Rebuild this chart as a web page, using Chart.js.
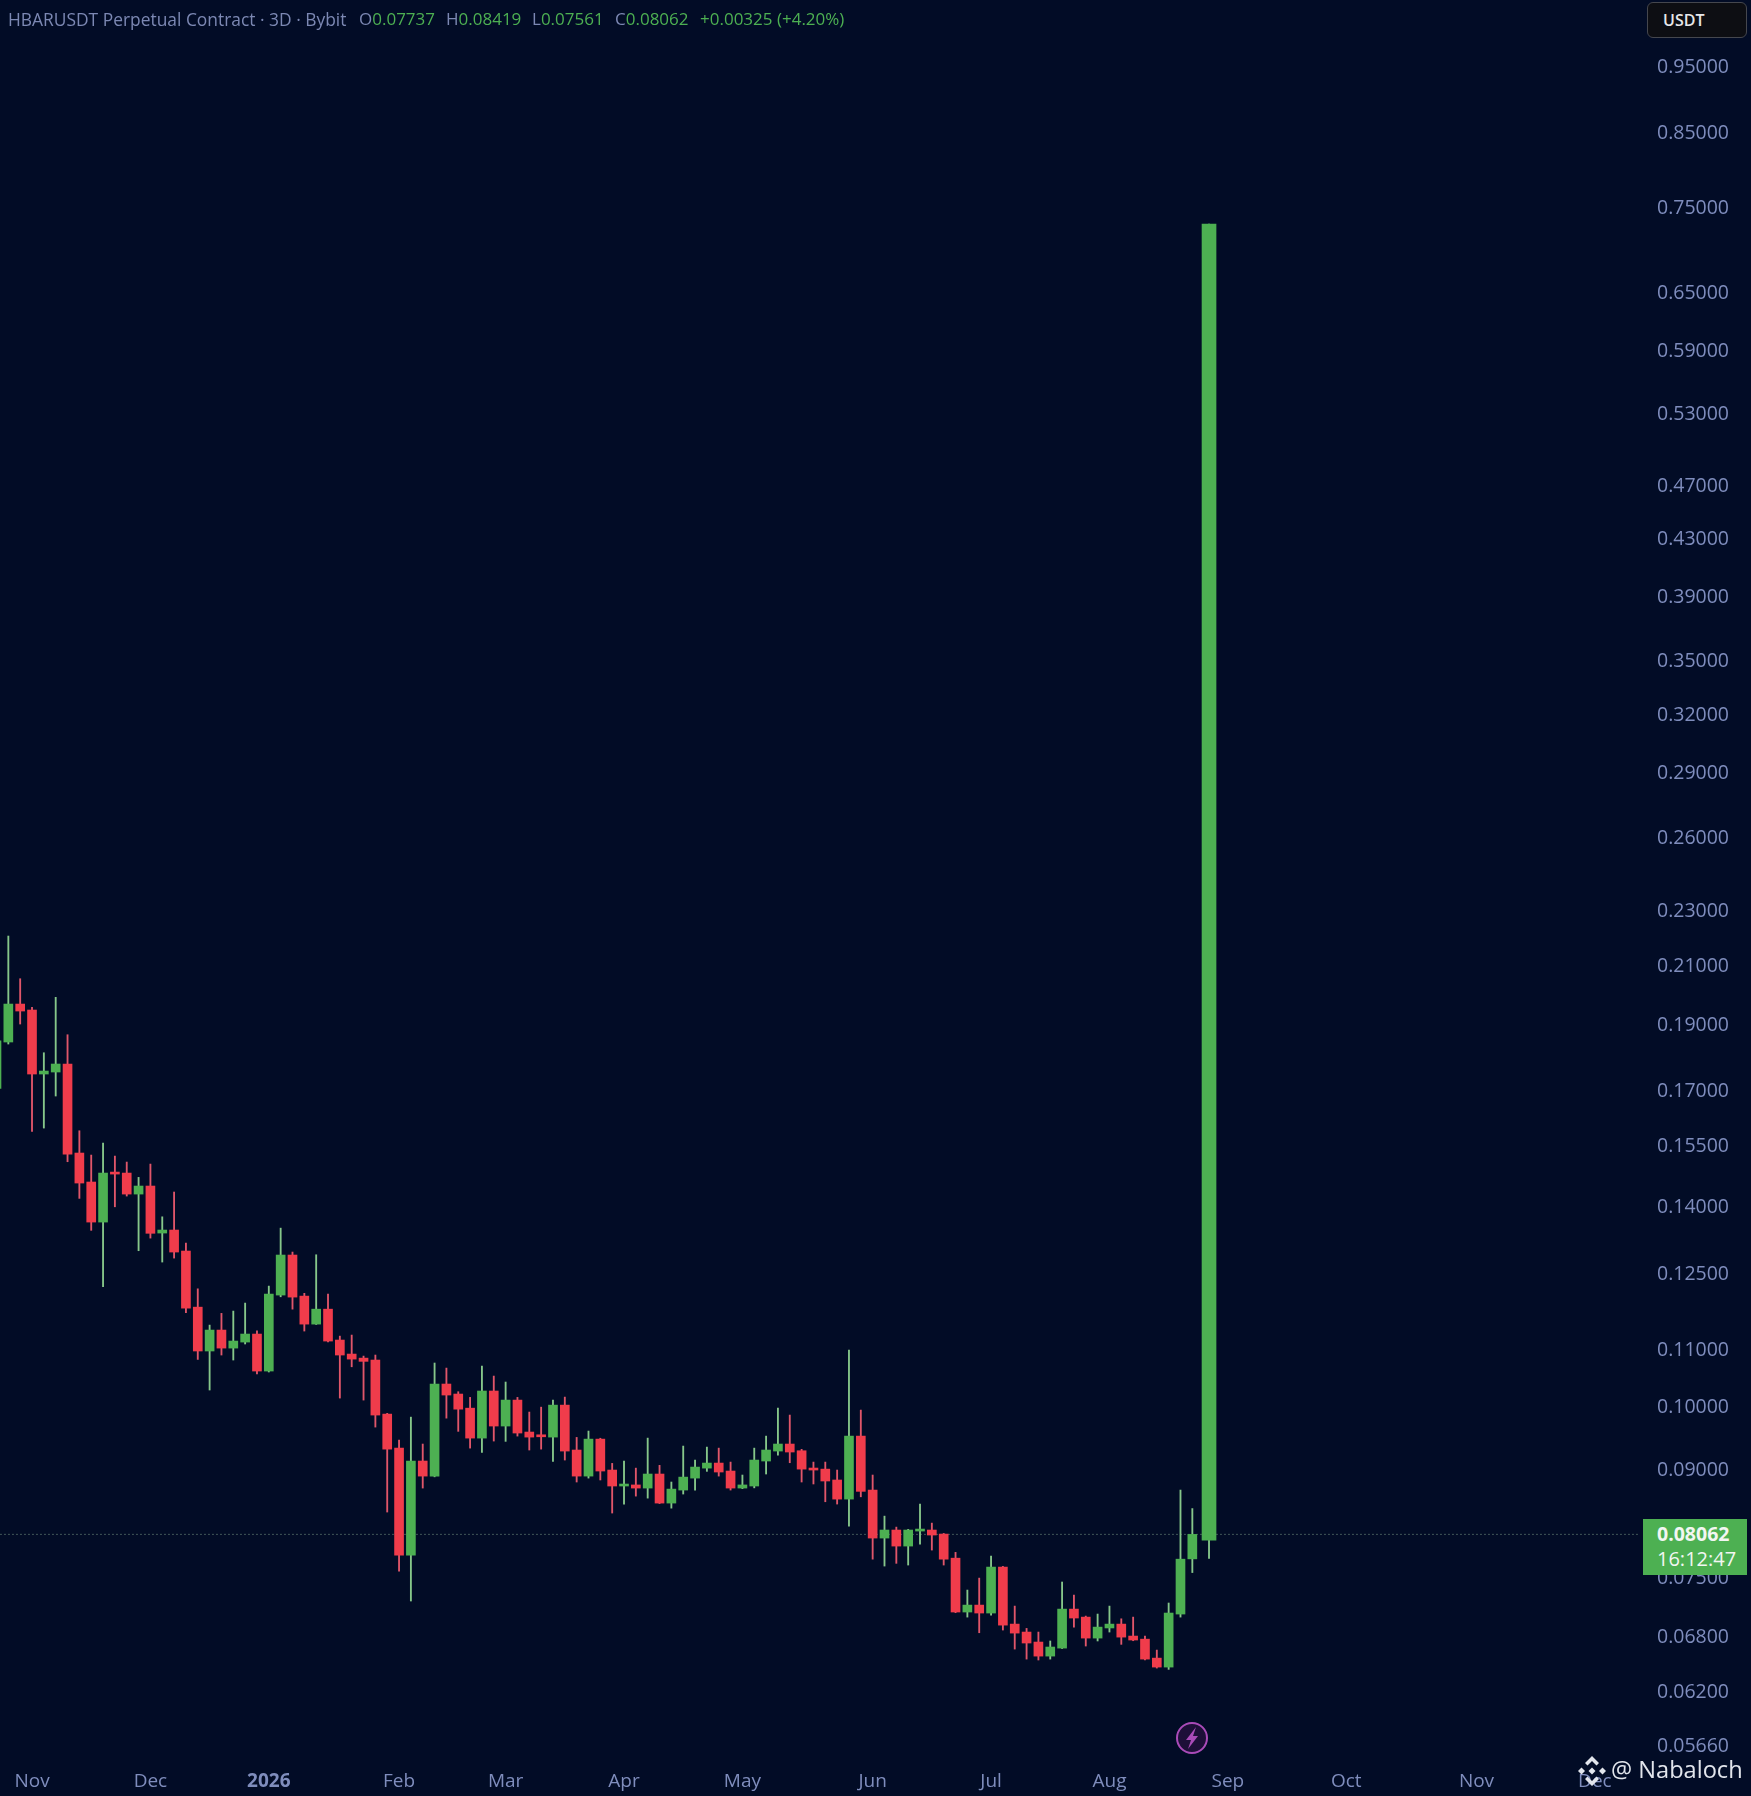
<!DOCTYPE html>
<html>
<head>
<meta charset="utf-8">
<title>HBARUSDT Perpetual Contract</title>
<script src="https://cdn.jsdelivr.net/npm/chart.js@4"></script>
<style>
  html, body { margin: 0; padding: 0; background: #020c26; }
  #wrap { position: relative; width: 1751px; height: 1796px; overflow: hidden; font-family: "Open Sans", sans-serif; }
  #chart { position: absolute; left: 0; top: 0; }
  .hd { position: absolute; top: 7px; font-size: 17px; line-height: 24px; color: #7c88b3; white-space: nowrap; }
  .hd b { font-weight: 400; color: #4db052; }
  #unit { position: absolute; left: 1647px; top: 2px; width: 100px; height: 36px; box-sizing: border-box; border: 1px solid #45474e; border-radius: 6px; background: #0d0e13; color: #e6e7ea; font-size: 16px; font-weight: 600; line-height: 34px; padding-left: 15px; }
  #tag { position: absolute; left: 1643px; top: 1519px; width: 104px; height: 56px; background: #4db052; color: #f2f6f2; font-size: 19.5px; }
  #tag div { position: absolute; left: 14px; line-height: 26px; white-space: nowrap; }
  #mark { position: absolute; left: 1611px; top: 1750px; font-size: 23.6px; line-height: 38px; color: #e2e5ec; white-space: nowrap; }
  svg { position: absolute; }
</style>
</head>
<body>
<div id="wrap">
  <canvas id="chart" width="1751" height="1796"></canvas>
  <div class="hd" style="left:8px;font-size:17.4px">HBARUSDT Perpetual Contract · 3D · Bybit</div>
  <div class="hd" style="left:359px">O<b>0.07737</b></div>
  <div class="hd" style="left:446px">H<b>0.08419</b></div>
  <div class="hd" style="left:532px">L<b>0.07561</b></div>
  <div class="hd" style="left:615px">C<b>0.08062</b></div>
  <div class="hd" style="left:700px"><b>+0.00325 (+4.20%)</b></div>
  <div id="unit">USDT</div>
  <div id="tag"><div style="top:2px;font-weight:700">0.08062</div><div style="top:27px;font-size:20px">16:12:47</div></div>
  <svg style="left:1175px;top:1721px" width="34" height="34" viewBox="0 0 34 34">
    <circle cx="17" cy="17" r="15" fill="#1d0f38" stroke="#a94bb8" stroke-width="2"/>
    <path d="M21 6 L11 19 H16 L13 28 L23 15 H18 Z" fill="#a94bb8"/>
  </svg>
  <svg style="left:1577px;top:1756px" width="30" height="30" viewBox="0 0 30 30" fill="#e2e5ec">
    <path d="M15 0 L22 7 L19.5 9.5 L15 5 L10.5 9.5 L8 7 Z"/>
    <path d="M15 30 L22 23 L19.5 20.5 L15 25 L10.5 20.5 L8 23 Z"/>
    <path d="M15 11.5 L18.5 15 L15 18.5 L11.5 15 Z"/>
    <path d="M4.5 11.5 L8 15 L4.5 18.5 L1 15 Z"/>
    <path d="M25.5 11.5 L29 15 L25.5 18.5 L22 15 Z"/>
  </svg>
  <div id="mark">@ Nabaloch</div>
</div>
<script>
// 3D candles, oldest first
const opens = [
  0.17053, 0.18434, 0.19648, 0.19452, 0.17469, 0.17528, 0.17765, 0.15298, 0.14571, 0.13623,
  0.14792, 0.14792, 0.14279, 0.14473, 0.13374, 0.13442, 0.12976, 0.11809, 0.10970, 0.11363,
  0.11024, 0.11136, 0.11287, 0.10607, 0.12051, 0.12889, 0.12030, 0.11477, 0.11769, 0.11174,
  0.10914, 0.10840, 0.10805, 0.09867, 0.09319, 0.07786, 0.09119, 0.08891, 0.10378, 0.10205,
  0.09966, 0.09477, 0.10257, 0.09671, 0.10102, 0.09574, 0.09509, 0.09493, 0.10017, 0.09289,
  0.08891, 0.09461, 0.08982, 0.08744, 0.08760, 0.08714, 0.08922, 0.08497, 0.08685, 0.08861,
  0.09011, 0.09088, 0.08967, 0.08714, 0.08744, 0.09119, 0.09273, 0.09383, 0.09278, 0.09011,
  0.08996, 0.08833, 0.08554, 0.09509, 0.08685, 0.08012, 0.08121, 0.07905, 0.08107, 0.08121,
  0.08066, 0.07746, 0.07076, 0.07159, 0.07064, 0.07631, 0.06934, 0.06842, 0.06728, 0.06571,
  0.06660, 0.07111, 0.07016, 0.06773, 0.06889, 0.06934, 0.06796, 0.06761, 0.06549, 0.06451,
  0.07052, 0.07737, 0.07985
];
const highs = [
  0.18474, 0.22026, 0.20502, 0.19538, 0.18105, 0.19871, 0.18661, 0.15881, 0.15246, 0.15557,
  0.15220, 0.15068, 0.14685, 0.15017, 0.13744, 0.14328, 0.13151, 0.12178, 0.11458, 0.11686,
  0.11731, 0.11890, 0.11350, 0.12234, 0.13485, 0.12954, 0.12086, 0.12895, 0.12071, 0.11248,
  0.11268, 0.10877, 0.10896, 0.09880, 0.09446, 0.09817, 0.09383, 0.10751, 0.10660, 0.10245,
  0.10148, 0.10696, 0.10518, 0.10413, 0.10148, 0.09901, 0.09983, 0.10102, 0.10153, 0.09488,
  0.09590, 0.09475, 0.09083, 0.09119, 0.09011, 0.09477, 0.09053, 0.08803, 0.09351, 0.09134,
  0.09335, 0.09319, 0.09103, 0.08907, 0.09319, 0.09509, 0.09966, 0.09851, 0.09300, 0.09103,
  0.09103, 0.08982, 0.10988, 0.09934, 0.08907, 0.08313, 0.08161, 0.08130, 0.08483, 0.08216,
  0.08075, 0.07822, 0.07342, 0.07491, 0.07773, 0.07640, 0.07147, 0.06884, 0.06842, 0.06740,
  0.07442, 0.07280, 0.07028, 0.07052, 0.07147, 0.06996, 0.07016, 0.06796, 0.06638, 0.07184,
  0.08685, 0.08419, 0.72844
];
const lows = [
  0.17053, 0.18372, 0.19000, 0.15865, 0.15953, 0.16835, 0.15076, 0.14176, 0.13435, 0.12220,
  0.13977, 0.14231, 0.12983, 0.13261, 0.12738, 0.12823, 0.11698, 0.10816, 0.10274, 0.10896,
  0.10805, 0.11100, 0.10554, 0.10590, 0.12016, 0.11769, 0.11344, 0.11470, 0.11140, 0.10136,
  0.10683, 0.10102, 0.09654, 0.08370, 0.07580, 0.07208, 0.08714, 0.08880, 0.09800, 0.09585,
  0.09319, 0.09253, 0.09430, 0.09425, 0.09509, 0.09289, 0.09303, 0.09114, 0.09134, 0.08803,
  0.08861, 0.08833, 0.08356, 0.08483, 0.08597, 0.08568, 0.08490, 0.08425, 0.08627, 0.08685,
  0.08962, 0.08891, 0.08685, 0.08705, 0.08717, 0.08922, 0.09211, 0.09093, 0.08803, 0.08774,
  0.08516, 0.08483, 0.08175, 0.08587, 0.07733, 0.07644, 0.07679, 0.07657, 0.07931, 0.07852,
  0.07657, 0.07068, 0.07016, 0.06834, 0.07040, 0.06865, 0.06649, 0.06538, 0.06528, 0.06538,
  0.06655, 0.06899, 0.06683, 0.06740, 0.06842, 0.06702, 0.06743, 0.06528, 0.06440, 0.06426,
  0.07016, 0.07561, 0.07743
];
const closes = [
  0.18474, 0.19648, 0.19419, 0.17469, 0.17557, 0.17765, 0.15272, 0.14546, 0.13623, 0.14792,
  0.14767, 0.14279, 0.14473, 0.13368, 0.13442, 0.12954, 0.11789, 0.10970, 0.11363, 0.11024,
  0.11155, 0.11287, 0.10607, 0.12071, 0.12889, 0.12010, 0.11477, 0.11769, 0.11155, 0.10896,
  0.10822, 0.10781, 0.09851, 0.09303, 0.07786, 0.09119, 0.08891, 0.10378, 0.10188, 0.09949,
  0.09477, 0.10257, 0.09671, 0.10102, 0.09558, 0.09493, 0.09498, 0.10017, 0.09273, 0.08891,
  0.09461, 0.08967, 0.08744, 0.08760, 0.08714, 0.08922, 0.08497, 0.08699, 0.08876, 0.09027,
  0.09088, 0.08952, 0.08714, 0.08760, 0.09134, 0.09289, 0.09383, 0.09258, 0.08996, 0.08982,
  0.08818, 0.08554, 0.09509, 0.08666, 0.08012, 0.08121, 0.07905, 0.08121, 0.08121, 0.08053,
  0.07733, 0.07076, 0.07159, 0.07064, 0.07631, 0.06922, 0.06830, 0.06717, 0.06571, 0.06672,
  0.07111, 0.07005, 0.06773, 0.06899, 0.06934, 0.06784, 0.06751, 0.06538, 0.06451, 0.07064,
  0.07733, 0.08062, 0.72844
];
const lastPrice = 0.08062;

// the last candle sits a little off the 3D grid and is wider
const spikeIndex = 102;
const spikeSlot = 102.41;

const priceTicks = [
  0.95, 0.85, 0.75, 0.65, 0.59, 0.53, 0.47, 0.43, 0.39, 0.35, 0.32, 0.29, 0.26, 0.23,
  0.21, 0.19, 0.17, 0.155, 0.14, 0.125, 0.11, 0.10, 0.09, 0.08, 0.075, 0.068, 0.062, 0.0566
];
const monthSlots = [3, 13, 23, 34, 43, 53, 63, 74, 84, 94, 104, 114, 125, 135];
const monthLabels = ['Nov', 'Dec', '2026', 'Feb', 'Mar', 'Apr', 'May', 'Jun', 'Jul', 'Aug', 'Sep', 'Oct', 'Nov', 'Dec'];

const UP = '#4db052';
const DOWN = '#f03c4b';
const UP_WICK = '#86c78a';
const DOWN_WICK = '#e0566a';
const AXIS_TEXT = '#7f8dbd';

const slot = i => (i === spikeIndex ? spikeSlot : i);
const isUp = i => closes[i] >= opens[i];
const indexes = opens.map((_, i) => i);
const plain = indexes.filter(i => i !== spikeIndex);

// the axes should not reserve room for labels hanging over the plot edges
const noEdgePadding = s => {
  s.paddingTop = 0;
  s.paddingBottom = 0;
  s.paddingLeft = 0;
  s.paddingRight = 0;
};

new Chart(document.getElementById('chart'), {
  type: 'bar',
  data: {
    datasets: [
      {
        label: 'body',
        order: 1,
        barThickness: 9,
        minBarLength: 2,
        data: plain.map(i => ({ x: slot(i), y: [opens[i], closes[i]] })),
        backgroundColor: plain.map(i => (isUp(i) ? UP : DOWN))
      },
      {
        label: 'spike',
        order: 1,
        barThickness: 14,
        data: [{ x: slot(spikeIndex), y: [opens[spikeIndex], closes[spikeIndex]] }],
        backgroundColor: UP
      },
      {
        label: 'wick',
        order: 2,
        barThickness: 1.2,
        data: indexes.map(i => ({ x: slot(i), y: [lows[i], highs[i]] })),
        backgroundColor: indexes.map(i => (isUp(i) ? UP_WICK : DOWN_WICK))
      },
      {
        type: 'line',
        label: 'last',
        order: 3,
        data: [{ x: 0, y: lastPrice }, { x: 140, y: lastPrice }],
        borderColor: 'rgba(170, 210, 170, 0.75)',
        borderWidth: 1,
        borderDash: [1, 3],
        pointRadius: 0
      }
    ]
  },
  options: {
    responsive: false,
    animation: false,
    devicePixelRatio: 1,
    layout: { padding: 0 },
    plugins: { legend: { display: false }, tooltip: { enabled: false } },
    datasets: { bar: { grouped: false, borderWidth: 0 } },
    scales: {
      x: {
        type: 'linear',
        offset: false,
        min: 0.296,
        max: 138.81,
        grid: { display: false },
        border: { display: false },
        afterBuildTicks: s => { s.ticks = monthSlots.map(value => ({ value })); },
        afterFit: s => { s.height = 33; noEdgePadding(s); },
        ticks: {
          autoSkip: false,
          maxRotation: 0,
          padding: -1,
          color: AXIS_TEXT,
          font: ctx => ({
            family: 'Open Sans',
            size: 19,
            weight: ctx.tick && ctx.tick.value === 23 ? 'bold' : 'normal'
          }),
          callback: v => monthLabels[monthSlots.indexOf(v)]
        }
      },
      y: {
        type: 'logarithmic',
        position: 'right',
        bounds: 'data',
        min: 0.05491,
        max: 1.0612,
        grid: { display: false, drawTicks: false },
        border: { display: false },
        afterBuildTicks: s => { s.ticks = priceTicks.map(value => ({ value })); },
        afterFit: s => { s.width = 111; noEdgePadding(s); },
        ticks: {
          autoSkip: false,
          padding: 17,
          labelOffset: 1.5,
          color: AXIS_TEXT,
          font: { family: 'Open Sans', size: 19.5 },
          callback: v => v.toFixed(5)
        }
      }
    }
  }
});
</script>
</body>
</html>
